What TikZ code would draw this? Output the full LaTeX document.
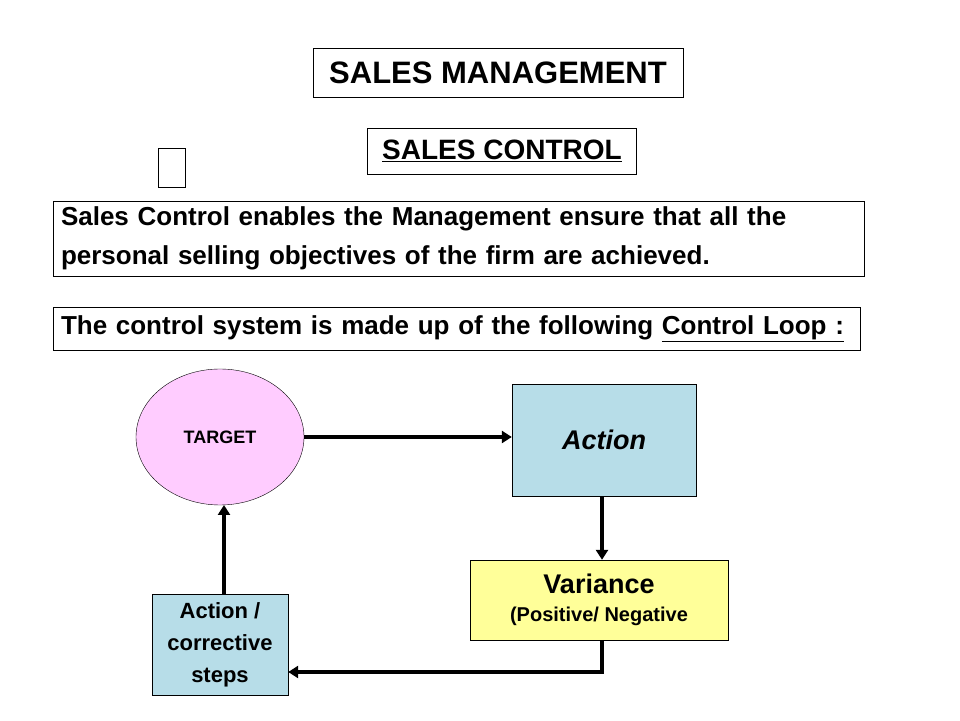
\documentclass[tikz,border=0pt]{standalone}
\usepackage{fontspec}
\setmainfont{Liberation Sans}
\usetikzlibrary{shapes.geometric,arrows.meta}
\definecolor{boxblue}{HTML}{B7DDE8}
\definecolor{boxyellow}{HTML}{FFFF99}
\definecolor{targetpink}{HTML}{FFCCFF}
\begin{document}
\begin{tikzpicture}[x=1pt,y=1pt,
  titlebox/.style={draw,thin,inner sep=0pt,font=\bfseries},
  loopbox/.style={draw,thin,inner sep=0pt,align=center,font=\bfseries},
  loop/.style={line width=4pt,-{Triangle[length=10pt,width=12pt]}}]
\useasboundingbox (0,0) rectangle (960,720);
% headings
\node[titlebox,minimum width=370pt,minimum height=49pt,font=\bfseries\fontsize{31}{36}\selectfont] (mgmt) at (498,647.5) {SALES MANAGEMENT};
\node[titlebox,minimum width=269pt,minimum height=46pt,font=\bfseries\fontsize{28}{33}\selectfont] (ctrl) at (502,569) {\underline{SALES CONTROL}};
\draw[thin] (158,533) rectangle (185,572);
% text boxes
\node[titlebox,minimum width=811pt,minimum height=75pt,text width=795pt,align=left,font=\bfseries\fontsize{26}{39}\selectfont] (intro) at (458.5,481.5) {Sales Control enables the Management ensure that all the\\personal selling objectives of the firm are achieved.};
\node[titlebox,minimum width=807pt,minimum height=43pt,text width=791pt,align=left,font=\bfseries\fontsize{26}{32}\selectfont] (system) at (456.5,391.5) {The control system is made up of the following \underline{Control Loop :}};
% control loop
\node[ellipse,draw,thin,fill=targetpink,minimum width=168pt,minimum height=136pt,font=\bfseries\fontsize{18}{22}\selectfont] (target) at (220,283) {TARGET};
\node[loopbox,fill=boxblue,minimum width=184pt,minimum height=112pt,font=\bfseries\itshape\fontsize{27}{32}\selectfont] (action) at (604,280) {Action};
\node[loopbox,fill=boxyellow,minimum width=258pt,minimum height=80pt,font=\bfseries\fontsize{27}{32}\selectfont] (variance) at (599,120) {Variance\\[-4pt]{\fontsize{20}{24}\selectfont (Positive/ Negative}};
\node[loopbox,fill=boxblue,minimum width=136pt,minimum height=101pt,font=\bfseries\fontsize{22}{32}\selectfont] (steps) at (220,75.5) {Action /\\corrective\\steps};
\coordinate (corner) at (602,48);
\draw[loop] (target.east |- 0,283) -- (action.west |- 0,283);
\draw[loop] (action.south -| corner) -- (variance.north -| corner);
\draw[loop] (variance.south -| corner) -- (corner) -- (corner -| steps.east);
\draw[loop] (steps.north -| 224,0) -- (224,215);
\end{tikzpicture}
\end{document}
